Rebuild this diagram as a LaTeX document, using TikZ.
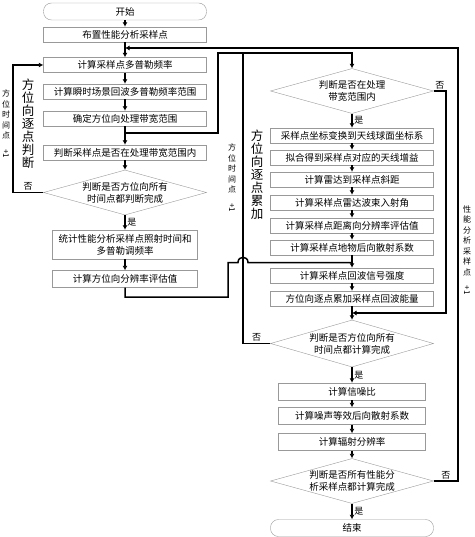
\documentclass[tikz,border=0pt]{standalone}
\usepackage{fontspec}
\setmainfont{Noto Sans CJK SC}
\usetikzlibrary{arrows.meta,shapes.geometric}
\tikzstyle{block} = [draw=black!40, minimum width=163pt, minimum height=15pt, inner sep=1pt, align=center, font=\fontsize{9.5}{12}\selectfont]
\tikzstyle{narrow} = [block, minimum width=147pt, minimum height=17pt]
\tikzstyle{terminal} = [block, rounded corners=8pt, minimum height=17pt]
\tikzstyle{decision} = [diamond, draw=black!40, aspect=3.6, inner sep=0pt, minimum width=163pt, minimum height=45pt, align=center, font=\fontsize{9.5}{12}\selectfont]
\tikzstyle{edge} = [draw, line width=1.5pt, -{Latex[length=4.5pt,width=5pt]}]
\tikzstyle{line} = [draw, line width=1.5pt]
\tikzstyle{weight} = [font=\fontsize{9}{10}\selectfont, inner sep=1.5pt]
\tikzstyle{vsmall} = [align=center, font=\fontsize{8}{10.5}\selectfont, inner sep=0pt]
\tikzstyle{vbig} = [align=center, font=\fontsize{12.5}{13}\selectfont, inner sep=0pt]

\begin{document}
\begin{tikzpicture}[x=1pt, y=-1pt]
				\useasboundingbox (0,0) rectangle (474,537);
				% left column
				\node[terminal] (start) at (125,11.5) {开始};
				\node[block] (b1) at (125,34.5) {布置性能分析采样点};
				\node[block] (b2) at (125,65) {计算采样点多普勒频率};
				\node[block] (b3) at (125,91.5) {计算瞬时场景回波多普勒频率范围};
				\node[block] (b4) at (125,118.5) {确定方位向处理带宽范围};
				\node[block] (b5) at (125,152.5) {判断采样点是否在处理带宽范围内};
				\node[decision] (d1) at (125,192.5) {判断是否方位向所有\\时间点都判断完成};
				\node[block, minimum width=145pt, minimum height=29pt] (b6) at (125,244.5) {统计性能分析采样点照射时间和\\多普勒调频率};
				\node[block, minimum width=145pt, minimum height=17pt] (b7) at (125,279) {计算方位向分辨率评估值};
				
				% right column
				\node[decision] (d2) at (352,91) {判断是否在处理\\带宽范围内};
				\node[block] (r1) at (352,135.5) {采样点坐标变换到天线球面坐标系};
				\node[block] (r2) at (352,157.5) {拟合得到采样点对应的天线增益};
				\node[block] (r3) at (352,179.5) {计算雷达到采样点斜距};
				\node[block] (r4) at (352,202.5) {计算采样点雷达波束入射角};
				\node[block] (r5) at (352,225.5) {计算采样点距离向分辨率评估值};
				\node[block] (r6) at (352,247.5) {计算采样点地物后向散射系数};
				\node[block] (r7) at (352,275.5) {计算采样点回波信号强度};
				\node[block] (r8) at (352,298.5) {方位向逐点累加采样点回波能量};
				\node[decision, minimum height=47pt] (d3) at (352,343.5) {判断是否方位向所有\\时间点都计算完成};
				\node[narrow] (r9) at (352,391.5) {计算信噪比};
				\node[narrow] (r10) at (352,416) {计算噪声等效后向散射系数};
				\node[narrow] (r11) at (352,442) {计算辐射分辨率};
				\node[decision] (d4) at (352,481) {判断是否所有性能分\\析采样点都计算完成};
				\node[terminal] (stop) at (352,528) {结束};
				
				% loop labels
				\node[vsmall] (t1) at (6,124) {方\\位\\时\\间\\点\\\rotatebox{-90}{+1}};
				\node[vbig] (t2) at (28,124) {方\\位\\向\\逐\\点\\判\\断};
				\node[vsmall] (t3) at (232,178) {方\\位\\时\\间\\点\\\rotatebox{-90}{+1}};
				\node[vbig] (t4) at (257,175) {方\\位\\向\\逐\\点\\累\\加};
				\node[vsmall] (t5) at (467,250) {性\\能\\分\\析\\采\\样\\点\\\rotatebox{-90}{+1}};
				
				\coordinate (jtop) at (125,48);
				\coordinate (jmid) at (125,133);
				\coordinate (jright) at (352,53);
				\coordinate (jlow) at (352,262.5);
				\coordinate (jacc) at (352,313);

				\foreach \source/ \dest in {start/b1, b1/b2, b2/b3, b3/b4, b4/b5, b5/d1, b6/b7, r1/r2, r2/r3, r3/r4, r4/r5, r5/r6, r6/r7, r7/r8, r8/d3, r9/r10, r10/r11, r11/d4}
				\path[edge] (\source) -- (\dest);
				\foreach \source/ \dest in {d1/b6, d2/r1, d3/r9, d4/stop}
				\path[edge] (\source) -- node[weight, right] {是} (\dest);
				
				\path[edge] (d1.west) -- node[weight, above] {否} (13,192.5) |- (b2.west);
				\path[edge] (d4.east) -- node[weight, above] {否} (458,481) |- (jtop);
				\path[edge] (d2.east) -- node[weight, above] {否} (446,91) |- (jacc);
				\path[line] (d3.west) -- node[weight, above] {否} (243,343.5) -- (243,53);
				\path[edge] (jmid) -- (218,133) |- (jright) -- (d2.north);
				\path[line] (b7.south) |- (228,297) |- (238,262.5) .. controls (238,255.5) and (248,255.5) .. (248,262.5) -- (jlow);
			\end{tikzpicture}
\end{document}
